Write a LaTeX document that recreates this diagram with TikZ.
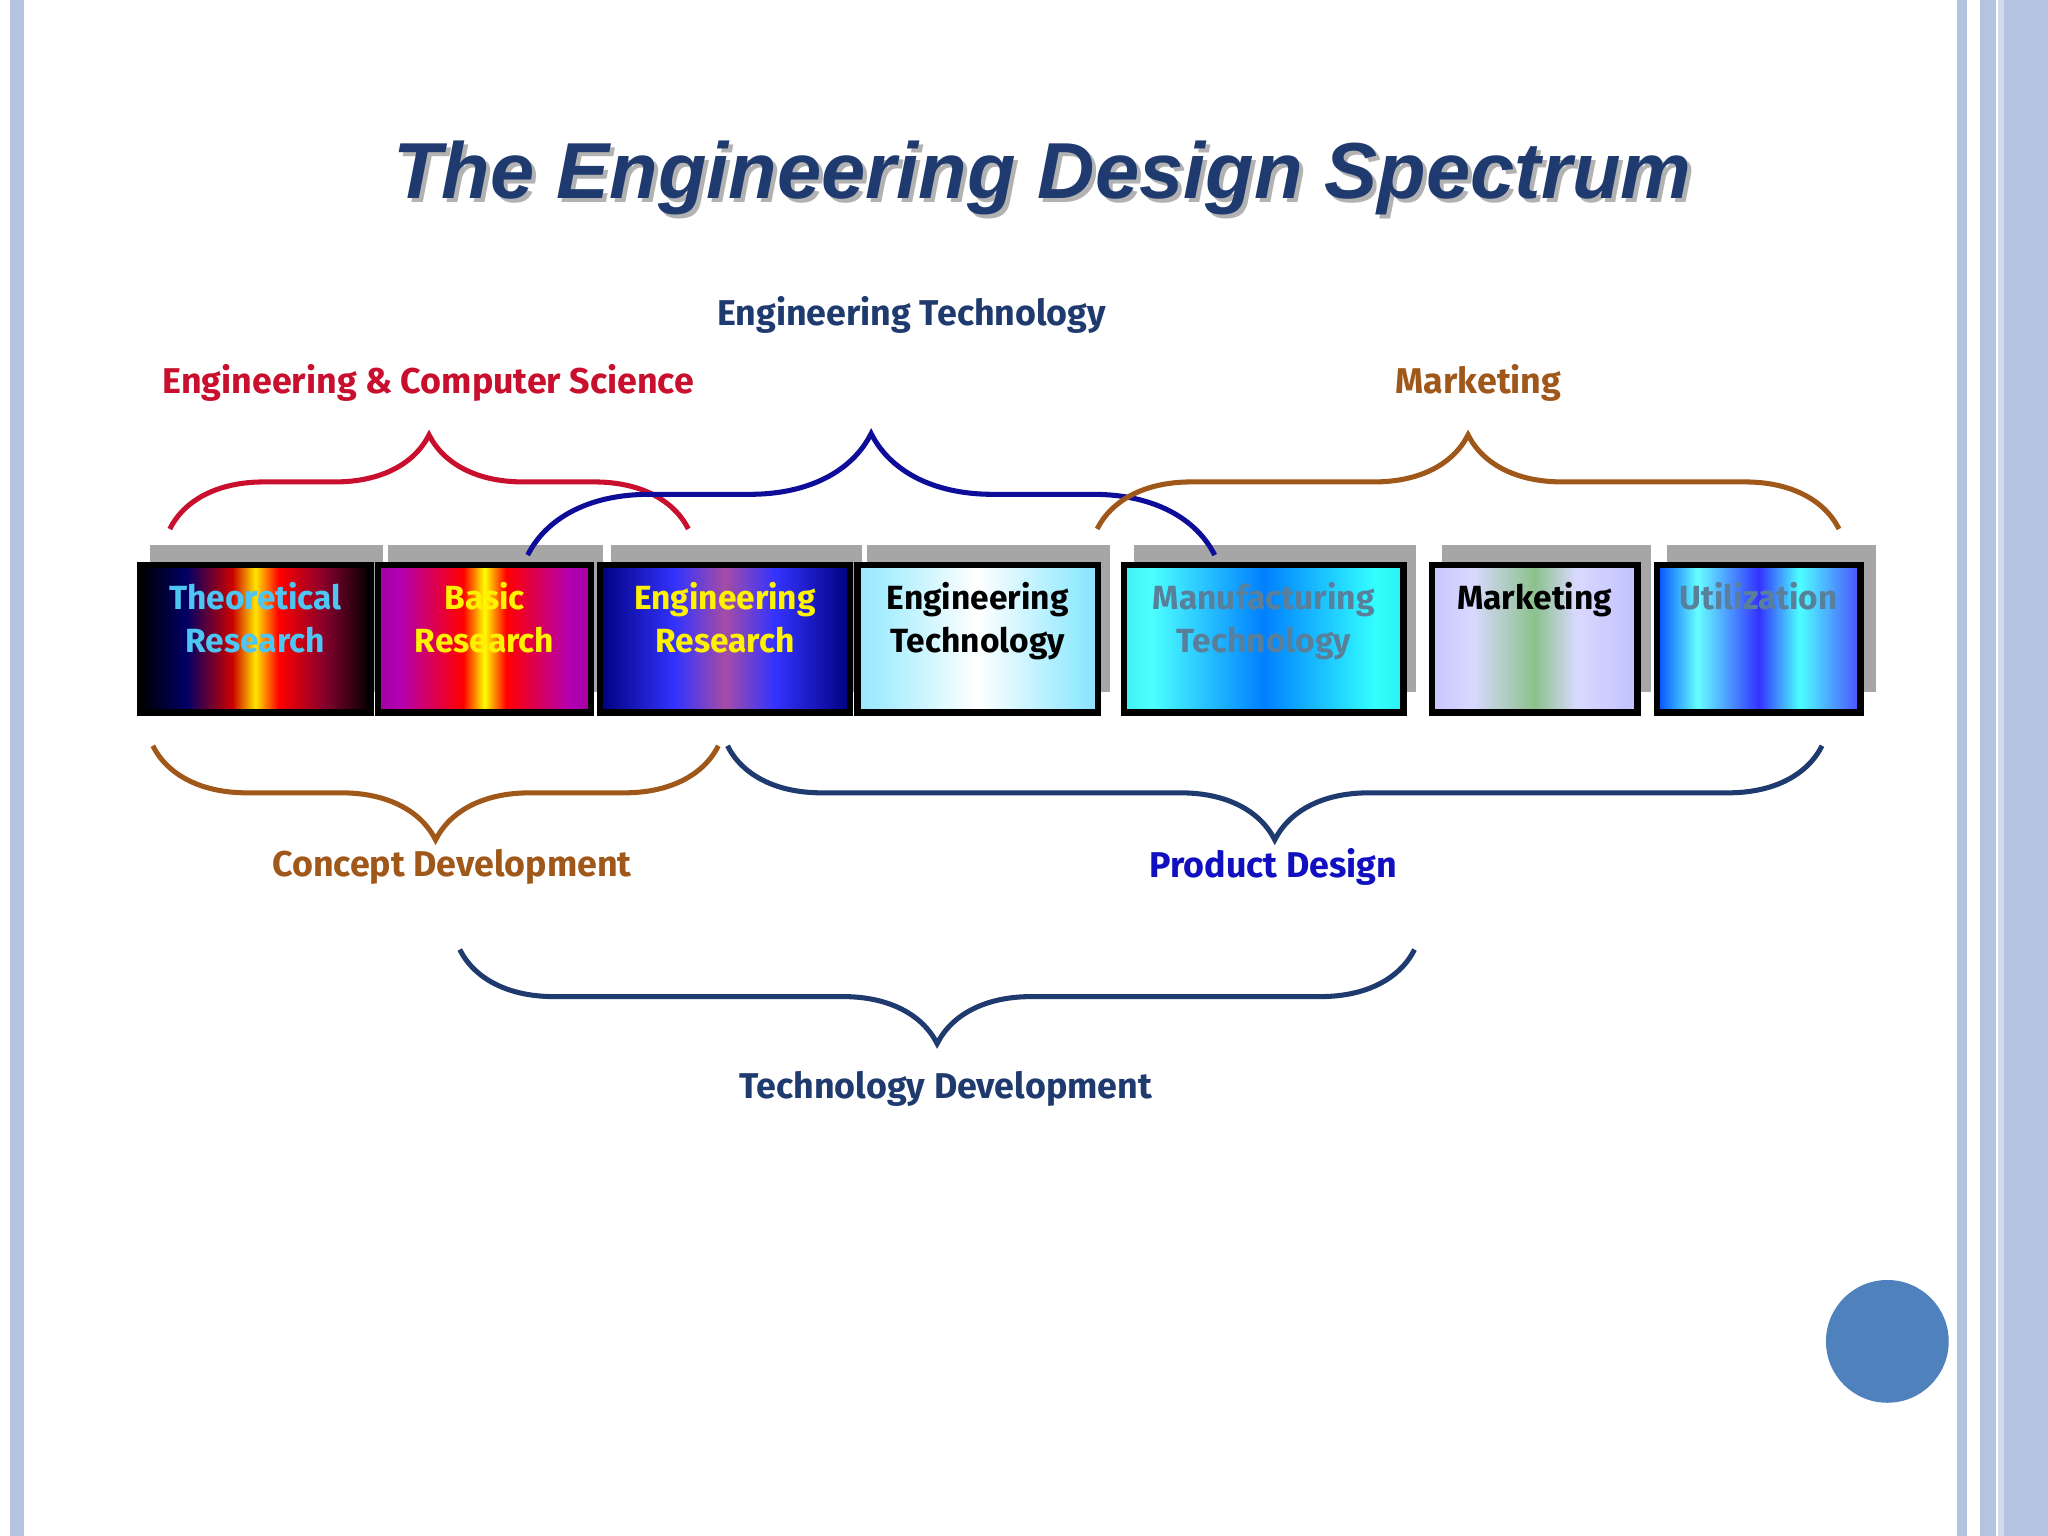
\documentclass[tikz,border=0pt]{standalone}
\usepackage{fontspec}
\setmainfont{Fira Sans}
\newfontfamily\titlefont{Liberation Sans}
\usetikzlibrary{decorations.pathreplacing}
\definecolor{navy}{HTML}{1F3A6E}
\definecolor{brn}{HTML}{A0581A}
\definecolor{crim}{HTML}{C8102E}
\definecolor{royal}{HTML}{1010C0}
\definecolor{dotblue}{HTML}{4F81BD}
\definecolor{barblue}{HTML}{B4C3E0}
\definecolor{tealtxt}{HTML}{5A7F9A}
\pgfdeclarehorizontalshading{theo}{100bp}{color(0bp)=(black); color(25bp)=(black); color(35bp)=(blue!40!black); color(45bp)=(red!80!black); color(50bp)=(yellow!80!orange); color(55bp)=(red); color(65bp)=(purple!70!black); color(75bp)=(black); color(100bp)=(black)}
\pgfdeclarehorizontalshading{basic}{100bp}{color(0bp)=(violet!60!black); color(30bp)=(magenta!70!black); color(45bp)=(red); color(50bp)=(yellow); color(55bp)=(red); color(70bp)=(magenta!70!black); color(100bp)=(violet!60!black)}
\pgfdeclarehorizontalshading{engres}{100bp}{color(0bp)=(black); color(25bp)=(blue!50!black); color(40bp)=(blue!80); color(50bp)=(violet!70); color(60bp)=(blue!80); color(75bp)=(blue!50!black); color(100bp)=(black)}
\pgfdeclarehorizontalshading{engtech}{100bp}{color(0bp)=(blue!40!cyan!60); color(30bp)=(blue!20!cyan!35); color(50bp)=(white); color(70bp)=(blue!20!cyan!40); color(100bp)=(blue!50!cyan!70)}
\pgfdeclarehorizontalshading{manuf}{100bp}{color(0bp)=(teal!70!cyan); color(30bp)=(cyan!70); color(50bp)=(blue!50!cyan); color(70bp)=(cyan!80); color(100bp)=(teal!70!cyan)}
\pgfdeclarehorizontalshading{market}{100bp}{color(0bp)=(blue!40!white); color(35bp)=(blue!15!white); color(50bp)=(green!30!gray!70); color(60bp)=(blue!15!white); color(100bp)=(blue!40!white)}
\pgfdeclarehorizontalshading{util}{100bp}{color(0bp)=(cyan!80); color(25bp)=(blue!70!cyan); color(35bp)=(cyan!60); color(50bp)=(blue!80); color(60bp)=(cyan!70); color(75bp)=(blue!70); color(100bp)=(cyan!80)}
\tikzset{
  stage/.style={draw=black,line width=1.4pt,anchor=north west,align=center,
    font=\fontsize{7.3}{9.4}\selectfont\bfseries,inner sep=2pt,text depth=0pt,
    minimum height=1.13cm},
  shadowbox/.style={fill=gray!70,draw=none},
  brc/.style={decorate,decoration={brace,amplitude=0.72cm},line width=1.1pt},
  lbl/.style={font=\fontsize{7.8}{10}\selectfont\bfseries}
}
\begin{document}
\begin{tikzpicture}[x=0.01cm,y=-0.01cm]
    \useasboundingbox (0,0) rectangle (1568,1176);
    \fill[white] (0,0) rectangle (1568,1176);
    % frame bars
    \fill[barblue] (8,0) rectangle (18,1176);
    \fill[barblue] (1498,0) rectangle (1506,1176);
    \fill[barblue] (1516,0) rectangle (1528,1176);
    \fill[barblue] (1534,0) rectangle (1568,1176);
    \fill[barblue!60] (1530,0) rectangle (1534,1176);
    % title
    \node[font=\titlefont\fontsize{17.3}{20}\selectfont\bfseries\itshape,text=gray!60] at (801,139) {The Engineering Design Spectrum};
    \node[font=\titlefont\fontsize{17.3}{20}\selectfont\bfseries\itshape,text=navy] (title) at (798,136) {The Engineering Design Spectrum};
    % shadows
    \foreach \a/\b in {115/293,297/462,468/660,664/850,868/1084,1104/1264,1276/1436}{
        \fill[shadowbox] (\a,417) rectangle (\b,530);
    }
    % stages
    \node[stage,minimum width=1.76cm,text=cyan!70!white,shading=theo] (theo) at (105,430) {Theoretical\\Research\\\strut};
    \node[stage,minimum width=1.63cm,text=yellow,shading=basic] (basic) at (287,430) {Basic\\Research\\\strut};
    \node[stage,minimum width=1.91cm,text=yellow,shading=engres] (engres) at (457,430) {Engineering\\Research\\\strut};
    \node[stage,minimum width=1.84cm,text=black,shading=engtech] (engtech) at (654,430) {Engineering\\Technology\\\strut};
    \node[stage,minimum width=2.14cm,text=tealtxt,shading=manuf] (manuf) at (858,430) {Manufacturing\\Technology\\\strut};
    \node[stage,minimum width=1.57cm,text=black,shading=market] (market) at (1094,430) {Marketing\\\strut\\\strut};
    \node[stage,minimum width=1.56cm,text=tealtxt,shading=util] (util) at (1266,430) {Utilization\\\strut\\\strut};
    % upper braces
    \coordinate (r1) at (130,405); \coordinate (r2) at (527,405);
    \coordinate (b1) at (404,425); \coordinate (b2) at (930,425);
    \coordinate (m1) at (840,405); \coordinate (m2) at (1408,405);
    \draw[brc,crim] (r1) -- (r2);
    \draw[brc,royal!80!black,decoration={amplitude=0.93cm}] (b1) -- (b2);
    \draw[brc,brn] (m1) -- (m2);
    \node[lbl,text=crim] (ecs) at (328,293) {Engineering \& Computer Science};
    \node[lbl,text=navy] (et) at (698,241) {Engineering Technology};
    \node[lbl,text=brn] (mk) at (1132,293) {Marketing};
    % lower braces
    \coordinate (c1) at (117,571); \coordinate (c2) at (550,571);
    \coordinate (p1) at (557,571); \coordinate (p2) at (1395,571);
    \coordinate (t1) at (352,727); \coordinate (t2) at (1083,727);
    \draw[brc,brn] (c2) -- (c1);
    \draw[brc,navy] (p2) -- (p1);
    \draw[brc,navy] (t2) -- (t1);
    \node[lbl,text=brn] (cd) at (346,664) {Concept Development};
    \node[lbl,text=royal] (pd) at (975,664) {Product Design};
    \node[lbl,text=navy] (td) at (724,834) {Technology Development};
    % corner dot
    \fill[dotblue] (1445,1027) circle (47);
\end{tikzpicture}
\end{document}
